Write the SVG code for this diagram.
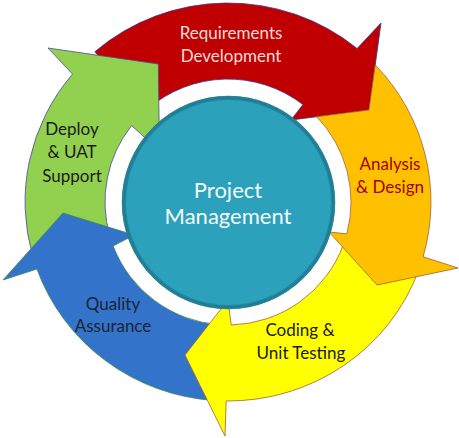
<svg xmlns="http://www.w3.org/2000/svg" width="459" height="438" viewBox="0 0 459 438">
<style>
.arrow{stroke-width:0.8;stroke-linejoin:miter}
.lbl{font-family:Lato,"Open Sans","Liberation Sans",sans-serif;font-size:17px;text-anchor:middle}
.big{font-size:22px}
</style>
<rect width="459" height="438" fill="#ffffff"/>
<g id="connectors"></g>
<g id="requirements">
<path class="arrow" fill="#C00000" stroke="#3A2E8C" d="M94.8,51.8 A203,199 0 0 1 357.1,48.5 L381,23 L369,110 L291,120 L303,104.6 A123,123 0 0 0 147.3,109.2 Z"/>
<text class="lbl" fill="#F2DCDB" x="231" y="39">Requirements</text>
<text class="lbl" fill="#F2DCDB" x="231" y="62">Development</text>
</g>
<g id="deploy">
<path class="arrow" fill="#92D050" stroke="#4A4A9C" d="M32.9,256.8 A203,199 0 0 1 72.5,74.1 L48,48 L158.3,64 L159.5,151 L131.6,125.6 A123,123 0 0 0 109.8,235.9 Z"/>
<text class="lbl" fill="#1A1A1A" x="72" y="135">Deploy</text>
<text class="lbl" fill="#1A1A1A" x="72" y="158">&amp; UAT</text>
<text class="lbl" fill="#1A1A1A" x="72" y="182">Support</text>
</g>
<g id="quality">
<path class="arrow" fill="#3373CA" stroke="#3C8A4A" d="M213.8,400.5 A203,199 0 0 1 36.9,269.1 L3,280 L63,213 L134,235 L113.2,246.1 A123,123 0 0 0 219.4,324.7 Z"/>
<text class="lbl" fill="#1C2433" x="113" y="310">Quality</text>
<text class="lbl" fill="#1C2433" x="113" y="332">Assurance</text>
</g>
<g id="coding">
<path class="arrow" fill="#FFFF00" stroke="#A0603A" d="M418.8,270.1 A203,199 0 0 1 226.2,401 L225,436 L185,355 L228,300 L231.2,325 A123,123 0 0 0 343.6,244.1 Z"/>
<text class="lbl" fill="#1A1A1A" x="300" y="336">Coding &amp;</text>
<text class="lbl" fill="#1A1A1A" x="301" y="359">Unit Testing</text>
</g>
<g id="analysis">
<path class="arrow" fill="#FFC000" stroke="#A0603A" d="M375.2,64.9 A203,199 0 0 1 423.1,256.8 L458,268 L377,285 L329,232 L346.8,233.8 A123,123 0 0 0 316.7,116.7 L369,110 Z"/>
<text class="lbl" fill="#A00000" x="390" y="170">Analysis</text>
<text class="lbl" fill="#A00000" x="390" y="193">&amp; Design</text>
</g>
<g id="project">
<circle cx="228.5" cy="202.5" r="104.5" fill="#2CA1BC" stroke="#25869D" stroke-width="4"/>
<circle cx="228.5" cy="202.5" r="104.5" fill="none" stroke="#1C7187" stroke-width="0.8"/>
<circle cx="228.5" cy="202.5" r="106.3" fill="none" stroke="#1E7A90" stroke-width="0.8"/>
<text class="lbl big" fill="#F4FAFC" x="228" y="198">Project</text>
<text class="lbl big" fill="#F4FAFC" x="228" y="224">Management</text>
</g>
</svg>
